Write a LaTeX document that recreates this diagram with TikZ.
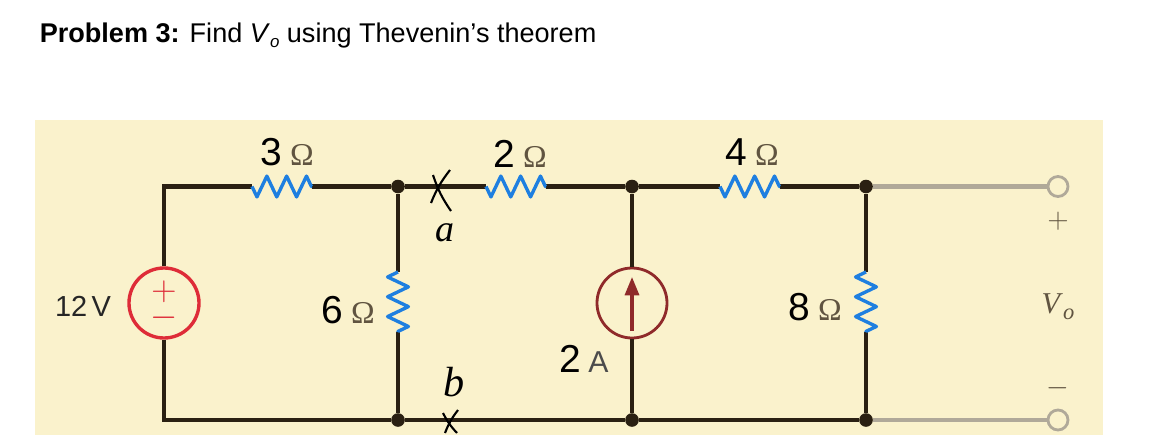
\documentclass[tikz,border=0pt]{standalone}
\usepackage{fontspec}
\setmainfont{Liberation Sans}
\newfontfamily\serifomega{Liberation Serif}
\usetikzlibrary{arrows.meta,decorations.pathmorphing}
\definecolor{mypaper}{RGB}{250,242,204}
\definecolor{mywire}{RGB}{42,32,18}
\definecolor{mygrey}{RGB}{176,169,153}
\definecolor{myblue}{RGB}{30,127,224}
\definecolor{myred}{RGB}{222,44,56}
\definecolor{mybrown}{RGB}{143,42,42}
\definecolor{myohm}{RGB}{96,84,64}
\newcommand{\ohmlabel}[1]{\fontsize{27.7}{30}\selectfont #1\hspace{6pt}{\serifomega\fontsize{22.6}{30}\selectfont\color{myohm}Ω}}
\newcommand{\voltsub}[1]{\textit{V}\raisebox{-.2em}{\fontsize{#1}{#1}\selectfont\textit{o}}}
\tikzset{
  wire/.style={line width=3.3pt,color=mywire},
  lead/.style={line width=3.3pt,color=mygrey},
  resistor/.style={line width=2.4pt,color=myblue,line join=round,decorate,
    decoration={zigzag,segment length=.495cm,amplitude=.26cm,mirror}},
  junction/.style={circle,fill=mywire,inner sep=0pt,minimum size=.34cm},
  terminal/.style={circle,draw=mygrey,line width=2pt,fill=mypaper,inner sep=0pt,minimum size=.5cm},
  value/.style={inner sep=0pt,anchor=base},
  hand/.style={line width=1.5pt,color=black}
}

\begin{document}
\begin{tikzpicture}[x=.025cm,y=-.025cm]
\useasboundingbox (0,0) rectangle (1160,435);
\fill[mypaper] (35,120) rectangle (1103,435);

\node[inner sep=0pt,anchor=base west,font=\fontsize{19.25}{22}\selectfont] (title) at (39.5,42)
  {\textbf{Problem 3:} Find \voltsub{12} using Thevenin’s theorem};

% nodes of the circuit
\node[circle,draw=myred,line width=2.4pt,inner sep=0pt,minimum size=1.75cm] (vs) at (164,303) {};
\node[circle,draw=mybrown,line width=2pt,inner sep=0pt,minimum size=1.75cm] (is) at (632,303) {};
\node[junction] (t1) at (398,186.5) {};
\node[junction] (t2) at (632,186.5) {};
\node[junction] (t3) at (866,186.5) {};
\node[junction] (b1) at (398,420) {};
\node[junction] (b2) at (632,420) {};
\node[junction] (b3) at (866,420) {};
\node[terminal] (op) at (1058,186.5) {};
\node[terminal] (on) at (1058,420) {};

\coordinate (r3a) at (252,186.5);
\coordinate (r3b) at (312,186.5);
\coordinate (r2a) at (486,186.5);
\coordinate (r2b) at (546,186.5);
\coordinate (r4a) at (720,186.5);
\coordinate (r4b) at (780,186.5);
\coordinate (r6a) at (398,272);
\coordinate (r6b) at (398,332);
\coordinate (r8a) at (866,272);
\coordinate (r8b) at (866,332);
\coordinate (arrowfoot) at (632,331);
\coordinate (arrowtip) at (632,277);

% wires
\draw[wire] (vs.north) |- (r3a);
\draw[wire] (r3b) -- (t1);
\draw[wire] (t1) -- (r2a);
\draw[wire] (r2b) -- (t2);
\draw[wire] (t2) -- (r4a);
\draw[wire] (r4b) -- (t3);
\draw[wire] (vs.south) |- (b1);
\draw[wire] (b1) -- (b2);
\draw[wire] (b2) -- (b3);
\draw[wire] (t1) -- (r6a);
\draw[wire] (r6b) -- (b1);
\draw[wire] (t2) -- (is.north);
\draw[wire] (is.south) -- (b2);
\draw[wire] (t3) -- (r8a);
\draw[wire] (r8b) -- (b3);
\draw[lead] (t3) -- (op);
\draw[lead] (b3) -- (on);

% resistors
\draw[resistor] (r3a) -- (r3b);
\draw[resistor] (r2a) -- (r2b);
\draw[resistor] (r4a) -- (r4b);
\draw[resistor] (r6a) -- (r6b);
\draw[resistor] (r8a) -- (r8b);

\draw[line width=2.2pt,mybrown,-{Triangle[length=13pt,width=10pt]}] (arrowfoot) -- (arrowtip);

% values
\node[value] (l3) at (287,165) {\ohmlabel{3}};
\node[value] (l2) at (520,167) {\ohmlabel{2}};
\node[value] (l4) at (752,165) {\ohmlabel{4}};
\node[value] (l6) at (348,323) {\ohmlabel{6}};
\node[value] (l8) at (815,320) {\ohmlabel{8}};
\node[value] (l12) at (83,316) {\fontsize{20.6}{24}\selectfont\color{black!85}12\hspace{3pt}V};
\node[value] (l2a) at (584,372) {\fontsize{27.7}{30}\selectfont 2\hspace{5pt}{\fontsize{21.5}{24}\selectfont\color{black!70}A}};

\node[inner sep=0pt,align=center,font=\fontsize{24}{18.4}\selectfont,myred] (vsign) at (164,305.5) {$+$\\$-$};
\node[inner sep=0pt,font=\fontsize{21}{22}\selectfont,myohm] (oplus) at (1058,221) {$+$};
\node[inner sep=0pt,font=\fontsize{21}{22}\selectfont,myohm] (ominus) at (1058,388) {$-$};
\node[value,font=\serifomega\fontsize{21.5}{24}\selectfont,myohm] (vo) at (1058,313) {\voltsub{16}};

% pencil marks
\node[inner sep=0pt,font=\fontsize{27}{27}\selectfont\itshape] (na) at (445,233) {\serifomega a};
\node[inner sep=0pt,font=\fontsize{30}{30}\selectfont\itshape] (nb) at (454,382) {\serifomega b};
\coordinate (xa1) at (431,203);
\coordinate (xa2) at (450,170);
\coordinate (xa3) at (433,175);
\coordinate (xa4) at (451,211);
\coordinate (xb1) at (443,413);
\coordinate (xb2) at (457,433);
\coordinate (xb3) at (458,410);
\coordinate (xb4) at (445,433);
\draw[hand] (xa1) to[bend left=8] (xa2);
\draw[hand] (xa3) to[bend right=8] (xa4);
\draw[hand] (xb1) to[bend right=8] (xb2);
\draw[hand] (xb3) to[bend right=8] (xb4);
\end{tikzpicture}
\end{document}
